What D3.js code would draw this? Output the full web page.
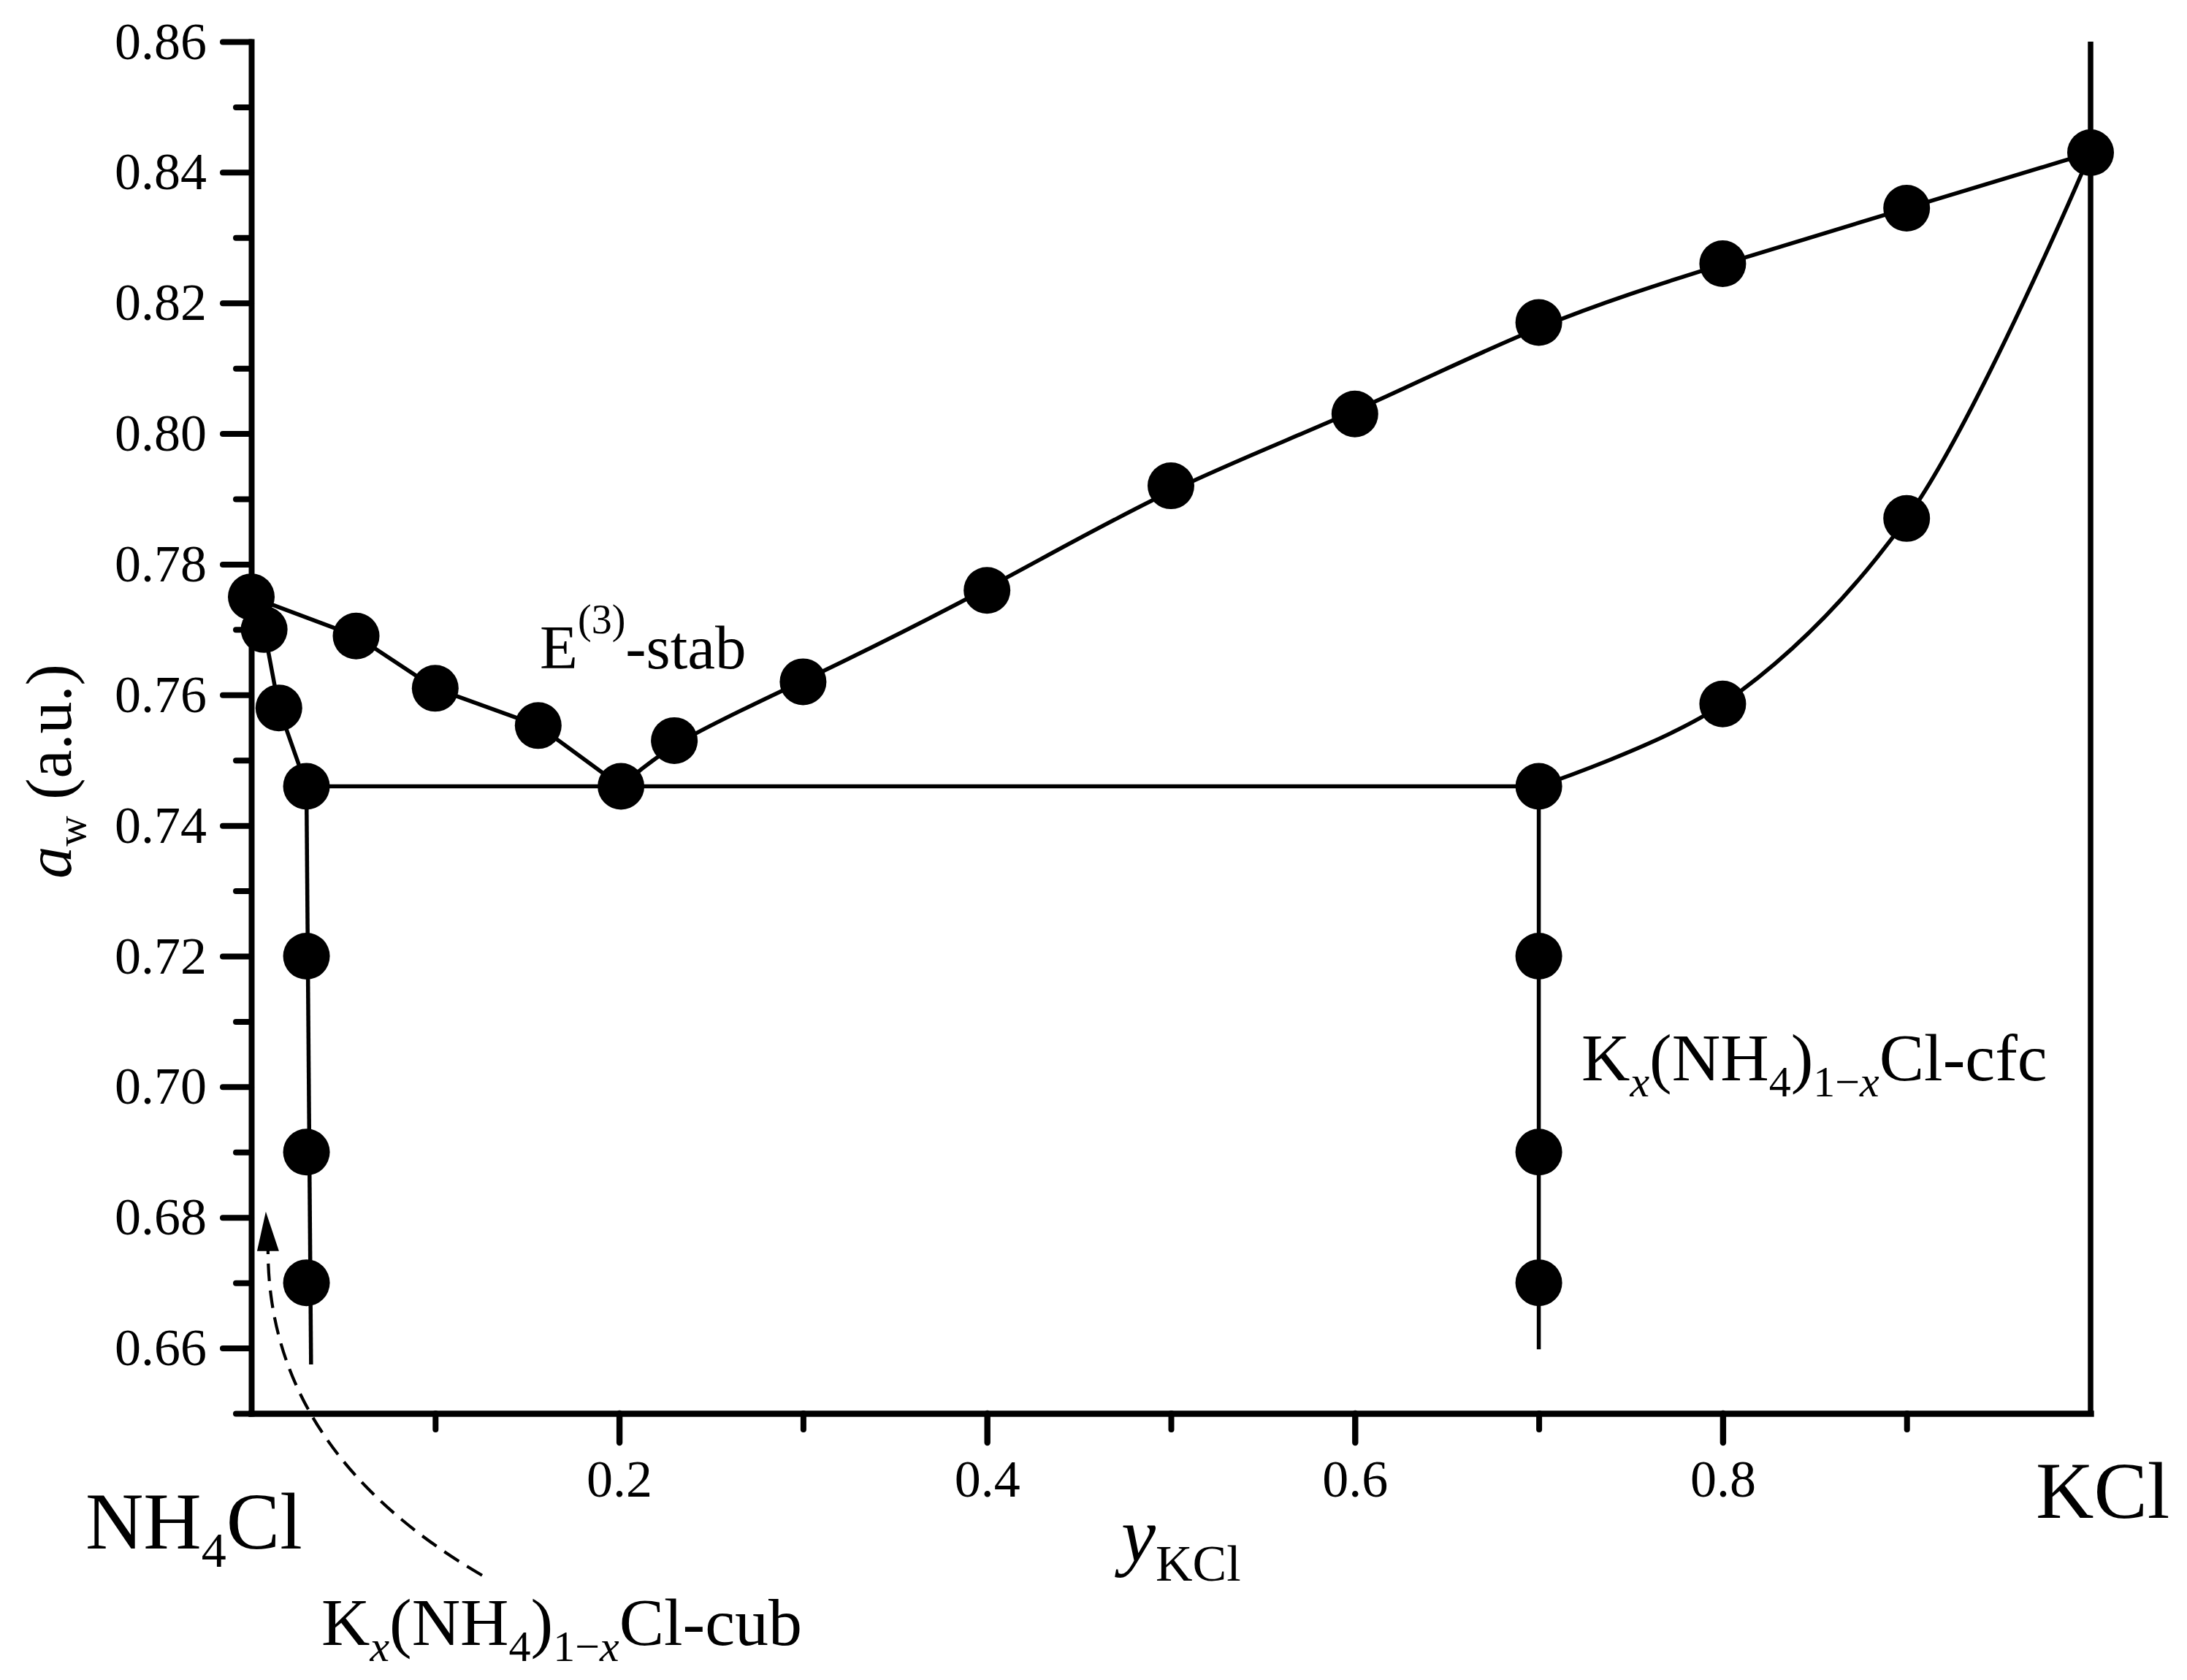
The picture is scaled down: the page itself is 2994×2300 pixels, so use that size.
<!DOCTYPE html>
<html><head><meta charset="utf-8">
<script src="https://cdn.jsdelivr.net/npm/d3@7"></script>
<style>html,body{margin:0;padding:0;background:#fff}</style></head>
<body>
<svg id="chart" width="2994" height="2300"></svg>
<script>
// ---------- data ----------
const xMajorTicks = [0.2, 0.4, 0.6, 0.8];
const xMinorTicks = [0.1, 0.3, 0.5, 0.7, 0.9];
const yMajorTicks = [0.66, 0.68, 0.70, 0.72, 0.74, 0.76, 0.78, 0.80, 0.82, 0.84, 0.86];
const yMinorTicks = [0.65, 0.67, 0.69, 0.71, 0.73, 0.75, 0.77, 0.79, 0.81, 0.83, 0.85];

// liquidus, NH4Cl-rich branch (E(3)-stab side)
const liqLeftX = [0.000, 0.057, 0.100, 0.156, 0.201];
const liqLeftY = [0.775, 0.769, 0.761, 0.7553, 0.746];
// liquidus, KCl-rich branch
const liqRightX = [0.201, 0.230, 0.300, 0.400, 0.500, 0.600, 0.700, 0.800, 0.900, 1.000];
const liqRightY = [0.746, 0.753, 0.762, 0.776, 0.792, 0.803, 0.817, 0.826, 0.8345, 0.843];
// cubic solid-solution boundary
const cubBoundX = [0.000, 0.007, 0.015, 0.030];
const cubBoundY = [0.775, 0.770, 0.758, 0.746];
const cubMarkX = [0.007, 0.015, 0.030, 0.030, 0.030, 0.030];
const cubMarkY = [0.770, 0.758, 0.746, 0.720, 0.690, 0.670];
const cubSolvusX = [0.030, 0.0325];
const cubSolvusY = [0.746, 0.6575];
// cfc solid-solution boundary
const cfcBoundX = [0.700, 0.800, 0.900, 1.000];
const cfcBoundY = [0.746, 0.7586, 0.787, 0.843];
const cfcMarkX = [0.700, 0.800, 0.900, 0.700, 0.700, 0.700];
const cfcMarkY = [0.746, 0.7586, 0.787, 0.720, 0.690, 0.670];
const cfcSolvusX = [0.700, 0.700];
const cfcSolvusY = [0.746, 0.6598];
// three-phase horizontal and pure KCl line
const eutX = [0.030, 0.700];
const eutY = [0.746, 0.746];
const kclX = [1.000, 1.000];
const kclY = [0.65, 0.86];

// ---------- chart ----------
const svg = d3.select("#chart");
svg.append("rect").attr("width", 2994).attr("height", 2300).attr("fill", "#fff");
const FONT = "'Liberation Serif','Times New Roman',serif";

const x = d3.scaleLinear().domain([0, 1]).range([344, 2862]);
const y = d3.scaleLinear().domain([0.65, 0.86]).range([1935, 57]);

const pts = (xs, ys) => xs.map((v, i) => [v, ys[i]]);
const line = d3.line().x(d => x(d[0])).y(d => y(d[1]));
const smooth = d3.line().x(d => x(d[0])).y(d => y(d[1])).curve(d3.curveCatmullRom.alpha(0.5));
const fitted = d3.line().x(d => x(d[0])).y(d => y(d[1])).curve(d3.curveBasis);

const lines = svg.append("g").attr("fill", "none").attr("stroke", "#000").attr("stroke-width", 5.5).attr("stroke-linejoin", "round");
lines.append("path").attr("d", line(pts(liqLeftX, liqLeftY)));
lines.append("path").attr("d", fitted(pts(liqRightX, liqRightY)));
lines.append("path").attr("d", line(pts(cubBoundX, cubBoundY)));
lines.append("path").attr("d", line(pts(cubSolvusX, cubSolvusY)));
lines.append("path").attr("d", smooth(pts(cfcBoundX, cfcBoundY)));
lines.append("path").attr("d", line(pts(cfcSolvusX, cfcSolvusY)));
lines.append("path").attr("d", line(pts(eutX, eutY)));
lines.append("path").attr("d", line(pts(kclX, kclY))).attr("stroke-width", 7.5);

// axes
function styleAxis(g, w) {
  g.selectAll("path.domain").attr("stroke-width", w).attr("stroke", "#000").attr("stroke-linecap", "square");
  g.selectAll(".tick line").attr("stroke-width", w).attr("stroke", "#000").attr("stroke-linecap", "round");
  g.selectAll(".tick text").attr("font-family", FONT).attr("font-size", 72).attr("fill", "#000");
}
const yAxis = svg.append("g").attr("transform", `translate(${x(0)},0)`)
  .call(d3.axisLeft(y).tickValues(yMajorTicks).tickSize(39).tickPadding(22).tickSizeOuter(0).tickFormat(d3.format(".2f")));
styleAxis(yAxis, 8);
const yMinor = svg.append("g").attr("transform", `translate(${x(0)},0)`)
  .call(d3.axisLeft(y).tickValues(yMinorTicks).tickSize(21).tickFormat(""));
yMinor.select("path.domain").remove();
styleAxis(yMinor, 8);

const xAxis = svg.append("g").attr("transform", `translate(0,${y(0.65)})`)
  .call(d3.axisBottom(x).tickValues(xMajorTicks).tickSize(40).tickPadding(23).tickSizeOuter(0).tickFormat(d3.format(".1f")));
styleAxis(xAxis, 8.4);
const xMinor = svg.append("g").attr("transform", `translate(0,${y(0.65)})`)
  .call(d3.axisBottom(x).tickValues(xMinorTicks).tickSize(22).tickFormat(""));
xMinor.select("path.domain").remove();
styleAxis(xMinor, 8);

// markers
const allMarks = [].concat(pts(liqLeftX, liqLeftY), pts(liqRightX.slice(1), liqRightY.slice(1)),
  pts(cubMarkX, cubMarkY), pts(cfcMarkX, cfcMarkY));
svg.append("g").selectAll("circle").data(allMarks).join("circle")
  .attr("cx", d => x(d[0])).attr("cy", d => y(d[1])).attr("r", 32).attr("fill", "#000");

// rich text helper
function rich(parent, px, py, size, parts, anchor, transform) {
  const t = parent.append("text").attr("font-family", FONT).attr("font-size", size)
    .attr("fill", "#000").attr("text-anchor", anchor || "start");
  if (transform) t.attr("transform", transform); else t.attr("x", px).attr("y", py);
  let cur = 0;
  parts.forEach(p => {
    const s = t.append("tspan").text(p.t);
    const shift = p.shift || 0;
    s.attr("dy", shift - cur);
    cur = shift;
    if (p.size) s.attr("font-size", p.size);
    if (p.it) s.attr("font-style", "italic");
  });
  return t;
}

// annotations (positions in data units)
const annE = [0.1569, 0.7641];
const annCfc = [0.7232, 0.7010];
const annCub = [0.0381, 0.6146];
const annNH4 = [-0.0902, 0.6293];
const annKCl = [0.9702, 0.6340];
const annXT = [0.473, 0.6274];

rich(svg, x(annE[0]), y(annE[1]), 85, [{t: "E"}, {t: "(3)", size: 56, shift: -48}, {t: "-stab", shift: 0}]);

const ssParts = (tail) => [
  {t: "K"}, {t: "x", it: true, size: 60, shift: 22}, {t: "(NH", shift: 0}, {t: "4", size: 60, shift: 22},
  {t: ")", shift: 0}, {t: "1−", size: 60, shift: 22}, {t: "x", it: true, size: 60, shift: 22}, {t: "Cl-" + tail, shift: 0}
];
rich(svg, x(annCfc[0]), y(annCfc[1]), 92, ssParts("cfc"));
rich(svg, x(annCub[0]), y(annCub[1]), 92, ssParts("cub"));

rich(svg, x(annNH4[0]), y(annNH4[1]), 110, [{t: "NH"}, {t: "4", size: 68, shift: 25}, {t: "Cl", shift: 0}]);
rich(svg, x(annKCl[0]), y(annKCl[1]), 110, [{t: "KCl"}]);
rich(svg, x(annXT[0]), y(annXT[1]), 106, [{t: "y", it: true}, {t: "KCl", size: 70, shift: 27}]);

// y-axis title
rich(svg, 0, 0, 88, [{t: "a", it: true}, {t: "w", size: 58, shift: 20}, {t: " (a.u.)", shift: 0}], "middle",
  `translate(97,${y(0.7483)}) rotate(-90)`);

// dashed arrow from cub label to the cubic solvus region
const arrStart = [0.1255, 0.6252], arrCtrl = [0.0087, 0.6444], arrBase = [0.0091, 0.6753], arrTip = [0.0079, 0.6809];
const pth = d3.path();
pth.moveTo(x(arrStart[0]), y(arrStart[1]));
pth.quadraticCurveTo(x(arrCtrl[0]), y(arrCtrl[1]), x(arrBase[0]), y(arrBase[1]));
svg.append("path").attr("d", pth.toString()).attr("fill", "none").attr("stroke", "#000")
  .attr("stroke-width", 4.2).attr("stroke-dasharray", "24,13");
const tx = x(arrTip[0]), ty = y(arrTip[1]), by = y(arrBase[1]) + 4, bx = x(arrBase[0]);
svg.append("path").attr("d", `M${tx},${ty}L${bx - 15},${by}L${bx + 15},${by}Z`).attr("fill", "#000");
</script>
</body></html>
